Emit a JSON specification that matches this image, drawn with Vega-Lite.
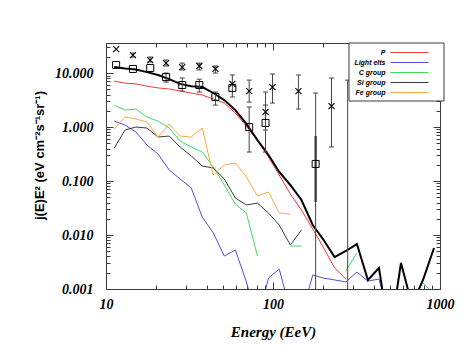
{
  "$schema": "https://vega.github.io/schema/vega-lite/v6.json",
  "width": 334,
  "height": 246,
  "autosize": {"type": "none"},
  "padding": {"left": 106, "top": 43, "right": 34, "bottom": 67},
  "background": "white",
  "config": {
    "view": {"stroke": "#3a3a3a", "strokeWidth": 1},
    "axis": {"grid": false, "domain": false, "tickColor": "#3a3a3a", "tickWidth": 1}
  },
  "datasets": {
    "lines": [
      {"s": "P", "E": 11.2, "v": 7.1}, {"s": "P", "E": 13.0, "v": 6.5}, {"s": "P", "E": 15.1, "v": 6.3}, {"s": "P", "E": 17.6, "v": 5.7},
      {"s": "P", "E": 20.5, "v": 5.3}, {"s": "P", "E": 23.9, "v": 5.06}, {"s": "P", "E": 27.8, "v": 4.64}, {"s": "P", "E": 32.4, "v": 4.26},
      {"s": "P", "E": 37.7, "v": 3.91}, {"s": "P", "E": 43.9, "v": 3.3}, {"s": "P", "E": 51.1, "v": 2.78}, {"s": "P", "E": 59.5, "v": 1.82},
      {"s": "P", "E": 69.3, "v": 1.04}, {"s": "P", "E": 80.7, "v": 0.55}, {"s": "P", "E": 94.0, "v": 0.278}, {"s": "P", "E": 109, "v": 0.129},
      {"s": "P", "E": 127, "v": 0.0574}, {"s": "P", "E": 148, "v": 0.029}, {"s": "P", "E": 173, "v": 0.0129}, {"s": "P", "E": 201, "v": 0.00574},
      {"s": "P", "E": 234, "v": 0.00245}, {"s": "P", "E": 273, "v": 0.00153},

      {"s": "Light elts", "E": 11.2, "v": 1.29}, {"s": "Light elts", "E": 13.0, "v": 1.09}, {"s": "Light elts", "E": 15.1, "v": 0.81}, {"s": "Light elts", "E": 17.6, "v": 0.464},
      {"s": "Light elts", "E": 20.5, "v": 0.316}, {"s": "Light elts", "E": 23.9, "v": 0.16}, {"s": "Light elts", "E": 27.8, "v": 0.109}, {"s": "Light elts", "E": 32.4, "v": 0.0742},
      {"s": "Light elts", "E": 37.7, "v": 0.0215}, {"s": "Light elts", "E": 43.9, "v": 0.0109}, {"s": "Light elts", "E": 51.1, "v": 0.00408}, {"s": "Light elts", "E": 59.5, "v": 0.00527},
      {"s": "Light elts", "E": 69.3, "v": 0.00135}, {"s": "Light elts", "E": 80.7, "v": 0.000245}, {"s": "Light elts", "E": 94.0, "v": 0.0016}, {"s": "Light elts", "E": 109, "v": 0.00234},
      {"s": "Light elts", "E": 127, "v": 0.00039}, {"s": "Light elts", "E": 148, "v": 0.000316}, {"s": "Light elts", "E": 173, "v": 0.00182}, {"s": "Light elts", "E": 201, "v": 0.00159},
      {"s": "Light elts", "E": 234, "v": 0.00147}, {"s": "Light elts", "E": 273, "v": 0.00135}, {"s": "Light elts", "E": 318, "v": 0.00206}, {"s": "Light elts", "E": 370, "v": 0.0014},
      {"s": "Light elts", "E": 431, "v": 0.00153}, {"s": "Light elts", "E": 501, "v": 0.00028},

      {"s": "C group", "E": 11.2, "v": 2.55}, {"s": "C group", "E": 13.0, "v": 2.06}, {"s": "C group", "E": 15.1, "v": 2.15}, {"s": "C group", "E": 17.6, "v": 1.53},
      {"s": "C group", "E": 20.5, "v": 1.29}, {"s": "C group", "E": 23.9, "v": 0.958}, {"s": "C group", "E": 27.8, "v": 0.55}, {"s": "C group", "E": 32.4, "v": 0.426},
      {"s": "C group", "E": 37.7, "v": 0.344}, {"s": "C group", "E": 43.9, "v": 0.182}, {"s": "C group", "E": 51.1, "v": 0.0844}, {"s": "C group", "E": 59.5, "v": 0.0375},
      {"s": "C group", "E": 69.3, "v": 0.0255}, {"s": "C group", "E": 80.7, "v": 0.00408}, {"s": "C group", "E": 94.0, "v": null}, {"s": "C group", "E": 109, "v": null},
      {"s": "C group", "E": 127, "v": 0.00625}, {"s": "C group", "E": 148, "v": 0.00625}, {"s": "C group", "E": 173, "v": null}, {"s": "C group", "E": 201, "v": null},
      {"s": "C group", "E": 234, "v": null}, {"s": "C group", "E": 273, "v": 0.00215}, {"s": "C group", "E": 318, "v": 0.00464}, {"s": "C group", "E": 370, "v": null},
      {"s": "C group", "E": 431, "v": null}, {"s": "C group", "E": 501, "v": null}, {"s": "C group", "E": 584, "v": null}, {"s": "C group", "E": 680, "v": null},
      {"s": "C group", "E": 791, "v": 0.00129}, {"s": "C group", "E": 921, "v": 0.0008},

      {"s": "Si group", "E": 11.2, "v": 0.408}, {"s": "Si group", "E": 13.0, "v": 0.88}, {"s": "Si group", "E": 15.1, "v": 1.0}, {"s": "Si group", "E": 17.6, "v": 0.958},
      {"s": "Si group", "E": 20.5, "v": 0.653}, {"s": "Si group", "E": 23.9, "v": 0.681}, {"s": "Si group", "E": 27.8, "v": 0.426}, {"s": "Si group", "E": 32.4, "v": 0.29},
      {"s": "Si group", "E": 37.7, "v": 0.19}, {"s": "Si group", "E": 43.9, "v": 0.174}, {"s": "Si group", "E": 51.1, "v": 0.109}, {"s": "Si group", "E": 59.5, "v": 0.0484},
      {"s": "Si group", "E": 69.3, "v": 0.036}, {"s": "Si group", "E": 80.7, "v": 0.039}, {"s": "Si group", "E": 94.0, "v": 0.0255}, {"s": "Si group", "E": 109, "v": 0.0153},
      {"s": "Si group", "E": 127, "v": 0.00653}, {"s": "Si group", "E": 148, "v": 0.0124},

      {"s": "Fe group", "E": 11.2, "v": 0.918}, {"s": "Fe group", "E": 13.0, "v": 1.53}, {"s": "Fe group", "E": 15.1, "v": 1.41}, {"s": "Fe group", "E": 17.6, "v": 1.24},
      {"s": "Fe group", "E": 20.5, "v": 0.653}, {"s": "Fe group", "E": 23.9, "v": 1.14}, {"s": "Fe group", "E": 27.8, "v": 0.681}, {"s": "Fe group", "E": 32.4, "v": 0.653},
      {"s": "Fe group", "E": 37.7, "v": 0.958}, {"s": "Fe group", "E": 43.9, "v": 0.129}, {"s": "Fe group", "E": 51.1, "v": 0.198}, {"s": "Fe group", "E": 59.5, "v": 0.216},
      {"s": "Fe group", "E": 69.3, "v": 0.119}, {"s": "Fe group", "E": 80.7, "v": 0.0527}, {"s": "Fe group", "E": 94.0, "v": 0.0625}, {"s": "Fe group", "E": 109, "v": 0.0255},
      {"s": "Fe group", "E": 127, "v": 0.0245}
    ],
    "total": [
      {"E": 11.2, "v": 12.9}, {"E": 13.0, "v": 12.1}, {"E": 15.1, "v": 11.6}, {"E": 17.6, "v": 10.4}, {"E": 20.5, "v": 9.2},
      {"E": 23.9, "v": 7.7}, {"E": 27.8, "v": 6.3}, {"E": 32.4, "v": 5.7}, {"E": 37.7, "v": 5.5}, {"E": 43.9, "v": 4.27},
      {"E": 51.1, "v": 3.16}, {"E": 59.5, "v": 2.06}, {"E": 69.3, "v": 1.14}, {"E": 80.7, "v": 0.574}, {"E": 94.0, "v": 0.303},
      {"E": 109, "v": 0.147}, {"E": 127, "v": 0.0844}, {"E": 148, "v": 0.0445}, {"E": 173, "v": 0.0153}, {"E": 201, "v": 0.0081},
      {"E": 234, "v": 0.0039}, {"E": 273, "v": 0.00506}, {"E": 318, "v": 0.0068}, {"E": 370, "v": 0.00147}, {"E": 431, "v": 0.00245},
      {"E": 501, "v": 0.000129}, {"E": 584, "v": 0.00303}, {"E": 680, "v": 0.000506}, {"E": 791, "v": 0.00147}, {"E": 921, "v": 0.00574}
    ],
    "sq": [
      {"E": 11.5, "v": 14.1}, {"E": 14.5, "v": 11.9}, {"E": 18.4, "v": 12.4}, {"E": 22.9, "v": 8.4}, {"E": 28.6, "v": 6.0},
      {"E": 36.2, "v": 6.0}, {"E": 45.2, "v": 3.6}, {"E": 57.1, "v": 5.3}, {"E": 72, "v": 1.0}, {"E": 90.2, "v": 1.19}, {"E": 180, "v": 0.207}
    ],
    "cr": [
      {"E": 11.5, "v": 27.8}, {"E": 14.5, "v": 21.5}, {"E": 18.4, "v": 17.4}, {"E": 22.9, "v": 15.3}, {"E": 28.6, "v": 12.9},
      {"E": 36.2, "v": 13.5}, {"E": 45.2, "v": 11.9}, {"E": 57.1, "v": 6.3}, {"E": 72, "v": 4.64}, {"E": 90.2, "v": 1.9},
      {"E": 99.3, "v": 5.5}, {"E": 142, "v": 4.64}, {"E": 224, "v": 2.45}
    ],
    "eb": [
      {"E": 22.9, "lo": 6.8, "hi": 10}, {"E": 28.6, "lo": 4.64, "hi": 8.1}, {"E": 36.2, "lo": 4.45, "hi": 7.7},
      {"E": 45.2, "lo": 2.55, "hi": 4.45}, {"E": 57.1, "lo": 3.6, "hi": 9.2}, {"E": 72, "lo": 0.344, "hi": 2.35},
      {"E": 90.2, "lo": 0.344, "hi": 2.55}, {"E": 180, "lo": 0.0005, "hi": 4.26}, {"E": 280, "lo": 0.0005, "hi": 7.4},
      {"E": 14.5, "lo": 19.8, "hi": 23.4}, {"E": 18.4, "lo": 16, "hi": 19.8}, {"E": 22.9, "lo": 13.5, "hi": 17.4},
      {"E": 28.6, "lo": 11.4, "hi": 15.3}, {"E": 36.2, "lo": 11.4, "hi": 15.3}, {"E": 45.2, "lo": 10, "hi": 13.5},
      {"E": 72, "lo": 2.9, "hi": 7.4}, {"E": 90.2, "lo": 0.88, "hi": 4.45}, {"E": 99.3, "lo": 2.78, "hi": 9.6},
      {"E": 142, "lo": 2.15, "hi": 9.2}, {"E": 224, "lo": 0.427, "hi": 8.1}
    ],
    "ebt": [
      {"E": 180, "lo": 0.041, "hi": 0.681}
    ]
  },
  "layer": [
    {
      "data": {"name": "lines"},
      "mark": {"type": "line", "strokeWidth": 1, "clip": true},
      "encoding": {
        "x": {
          "field": "E", "type": "quantitative",
          "scale": {"type": "log", "domain": [10, 1000], "nice": false},
          "axis": {
            "orient": "bottom",
            "values": [10, 20, 30, 40, 50, 60, 70, 80, 90, 100, 200, 300, 400, 500, 600, 700, 800, 900, 1000],
            "tickSize": {"condition": {"test": "abs(log(datum.value)/LN10 - round(log(datum.value)/LN10)) < 0.001", "value": -7}, "value": -4},
            "labelExpr": "abs(log(datum.value)/LN10 - round(log(datum.value)/LN10)) < 0.001 ? format(datum.value, 'd') : ''",
            "labelFont": "Liberation Serif", "labelFontSize": 14, "labelFontWeight": "bold", "labelFontStyle": "italic",
            "labelColor": "black", "labelPadding": 15, "labelFlush": false, "labelOverlap": false,
            "title": "Energy (EeV)", "titleFont": "Liberation Serif", "titleFontSize": 15, "titleFontWeight": "bold",
            "titleFontStyle": "italic", "titleColor": "black", "titleX": 167, "titleY": 42, "titleBaseline": "middle"
          }
        },
        "y": {
          "field": "v", "type": "quantitative",
          "scale": {"type": "log", "domain": [0.001, 36], "nice": false},
          "axis": {
            "orient": "left",
            "values": [0.001, 0.002, 0.003, 0.004, 0.005, 0.006, 0.007, 0.008, 0.009, 0.01, 0.02, 0.03, 0.04, 0.05, 0.06, 0.07, 0.08, 0.09, 0.1, 0.2, 0.3, 0.4, 0.5, 0.6, 0.7, 0.8, 0.9, 1, 2, 3, 4, 5, 6, 7, 8, 9, 10, 20, 30],
            "tickSize": {"condition": {"test": "abs(log(datum.value)/LN10 - round(log(datum.value)/LN10)) < 0.001", "value": -7}, "value": -4},
            "labelExpr": "abs(log(datum.value)/LN10 - round(log(datum.value)/LN10)) < 0.001 ? format(datum.value, '.3f') : ''",
            "labelFont": "Liberation Serif", "labelFontSize": 14, "labelFontWeight": "bold", "labelFontStyle": "italic",
            "labelColor": "black", "labelPadding": 20, "labelFlush": false, "labelOverlap": false,
            "title": "j(E)E² (eV cm⁻²s⁻¹sr⁻¹)", "titleFont": "Liberation Sans", "titleFontSize": 13, "titleFontWeight": "bold",
            "titleColor": "black", "titleX": -67, "titleY": 112, "titleBaseline": "middle", "titleAngle": -90
          }
        },
        "color": {
          "field": "s", "type": "nominal",
          "scale": {"domain": ["P", "Light elts", "C group", "Si group", "Fe group"], "range": ["#ee3b3b", "#4f4fe0", "#3fdc5f", "#3a3a3a", "#f2ad45"]},
          "legend": {
            "orient": "none", "legendX": 242.5, "legendY": -0.5, "title": null,
            "strokeColor": "#3a3a3a", "fillColor": "white", "padding": 5,
            "symbolType": "M-4.75,0H4.75M6.5,0", "symbolSize": 64, "symbolStrokeWidth": 1.2,
            "symbolStrokeColor": "#888888",
            "symbolOffset": 51,
            "labelAlign": "right", "labelOffset": -29,
            "labelFont": "Liberation Sans", "labelFontSize": 7, "labelFontWeight": "bold", "labelFontStyle": "italic",
            "labelColor": "black", "rowPadding": 2,
            "encode": {"symbols": {"update": {"stroke": {"scale": "color", "field": "value"}, "strokeWidth": {"value": 1.2}, "opacity": {"value": 1}}}}
          }
        }
      }
    },
    {
      "data": {"name": "total"},
      "mark": {"type": "line", "strokeWidth": 2, "color": "black", "clip": true},
      "encoding": {
        "x": {
          "field": "E", "type": "quantitative",
          "scale": {"type": "log", "domain": [10, 1000], "nice": false},
          "axis": {
            "orient": "top", "title": null, "labels": false,
            "values": [10, 20, 30, 40, 50, 60, 70, 80, 90, 100, 200, 300, 400, 500, 600, 700, 800, 900, 1000],
            "tickSize": {"condition": {"test": "abs(log(datum.value)/LN10 - round(log(datum.value)/LN10)) < 0.001", "value": -7}, "value": -4}
          }
        },
        "y": {
          "field": "v", "type": "quantitative",
          "scale": {"type": "log", "domain": [0.001, 36], "nice": false},
          "axis": {
            "orient": "right", "title": null, "labels": false,
            "values": [0.001, 0.002, 0.003, 0.004, 0.005, 0.006, 0.007, 0.008, 0.009, 0.01, 0.02, 0.03, 0.04, 0.05, 0.06, 0.07, 0.08, 0.09, 0.1, 0.2, 0.3, 0.4, 0.5, 0.6, 0.7, 0.8, 0.9, 1, 2, 3, 4, 5, 6, 7, 8, 9, 10, 20, 30],
            "tickSize": {"condition": {"test": "abs(log(datum.value)/LN10 - round(log(datum.value)/LN10)) < 0.001", "value": -7}, "value": -4}
          }
        }
      }
    },
    {
      "data": {"name": "eb"},
      "mark": {"type": "rule", "color": "#444444", "strokeWidth": 1, "clip": true},
      "encoding": {
        "x": {"field": "E", "type": "quantitative", "scale": {"type": "log", "domain": [10, 1000], "nice": false}, "axis": null},
        "y": {"field": "lo", "type": "quantitative", "scale": {"type": "log", "domain": [0.001, 36], "nice": false}, "axis": null},
        "y2": {"field": "hi"}
      }
    },
    {
      "data": {"name": "ebt"},
      "mark": {"type": "rule", "color": "#333333", "strokeWidth": 2.2, "clip": true},
      "encoding": {
        "x": {"field": "E", "type": "quantitative", "scale": {"type": "log", "domain": [10, 1000], "nice": false}, "axis": null},
        "y": {"field": "lo", "type": "quantitative", "scale": {"type": "log", "domain": [0.001, 36], "nice": false}, "axis": null},
        "y2": {"field": "hi"}
      }
    },
    {
      "data": {"name": "eb"},
      "mark": {"type": "tick", "orient": "horizontal", "size": 5, "thickness": 1, "color": "#444444", "opacity": 1, "clip": true},
      "encoding": {
        "x": {"field": "E", "type": "quantitative", "scale": {"type": "log", "domain": [10, 1000], "nice": false}, "axis": null},
        "y": {"field": "hi", "type": "quantitative", "scale": {"type": "log", "domain": [0.001, 36], "nice": false}, "axis": null}
      }
    },
    {
      "data": {"name": "eb"},
      "mark": {"type": "tick", "orient": "horizontal", "size": 5, "thickness": 1, "color": "#444444", "opacity": 1, "clip": true},
      "encoding": {
        "x": {"field": "E", "type": "quantitative", "scale": {"type": "log", "domain": [10, 1000], "nice": false}, "axis": null},
        "y": {"field": "lo", "type": "quantitative", "scale": {"type": "log", "domain": [0.001, 36], "nice": false}, "axis": null}
      }
    },
    {
      "data": {"name": "sq"},
      "mark": {"type": "point", "shape": "square", "filled": false, "size": 49, "stroke": "black", "strokeWidth": 1, "opacity": 1, "clip": true},
      "encoding": {
        "x": {"field": "E", "type": "quantitative", "scale": {"type": "log", "domain": [10, 1000], "nice": false}, "axis": null},
        "y": {"field": "v", "type": "quantitative", "scale": {"type": "log", "domain": [0.001, 36], "nice": false}, "axis": null}
      }
    },
    {
      "data": {"name": "cr"},
      "mark": {"type": "point", "shape": "M-1,-1L1,1M-1,1L1,-1", "filled": false, "size": 36, "stroke": "black", "strokeWidth": 1.1, "opacity": 1, "clip": true},
      "encoding": {
        "x": {"field": "E", "type": "quantitative", "scale": {"type": "log", "domain": [10, 1000], "nice": false}, "axis": null},
        "y": {"field": "v", "type": "quantitative", "scale": {"type": "log", "domain": [0.001, 36], "nice": false}, "axis": null}
      }
    }
  ],
  "resolve": {"axis": {"x": "independent", "y": "independent"}}
}
